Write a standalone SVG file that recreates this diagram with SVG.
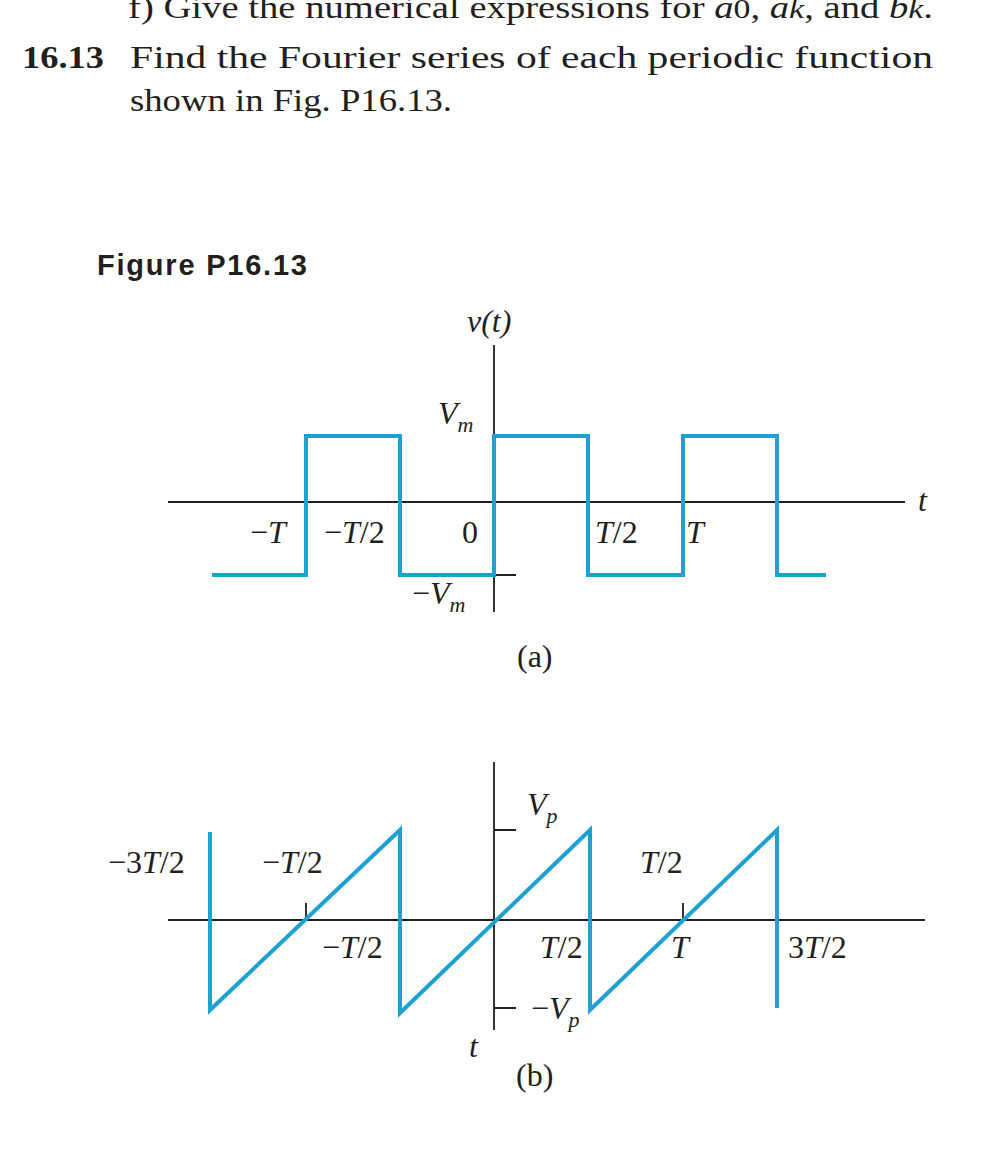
<svg xmlns="http://www.w3.org/2000/svg" width="1000" height="1167" viewBox="0 0 1000 1167">
<style>
.s{font-family:"Liberation Serif",serif;font-size:32px;fill:#231f20}
.i{font-style:italic}
.ax{stroke:#231f20;stroke-width:1.8;fill:none}
.w{stroke:#1ea0d2;stroke-width:4;fill:none;stroke-linejoin:miter}
</style>
<rect width="1000" height="1167" fill="#fff"/>
<text class="s" x="128" y="18" font-size="44" textLength="805" lengthAdjust="spacingAndGlyphs">f)   Give the numerical expressions for <tspan class="i">a</tspan><tspan font-size="28">0</tspan>, <tspan class="i">a<tspan font-size="28">k</tspan></tspan>, and <tspan class="i">b<tspan font-size="28">k</tspan></tspan>.</text>
<text class="s" x="22" y="68" font-size="42" font-weight="bold" textLength="82" lengthAdjust="spacingAndGlyphs">16.13</text>
<text class="s" x="130" y="68" font-size="44" textLength="803" lengthAdjust="spacingAndGlyphs">Find the Fourier series of each periodic function</text>
<text class="s" x="130" y="111" font-size="44" textLength="322" lengthAdjust="spacingAndGlyphs">shown in Fig. P16.13.</text>
<text x="97" y="275" font-family="Liberation Sans,Arial,sans-serif" font-weight="bold" font-size="29" fill="#231f20" textLength="210">Figure P16.13</text>
<g id="graph-a">
<path class="ax" d="M168 502H905M494 345V612M494 575H516"/>
<path class="w" d="M212 575H306V436H400V575H494V436H588V575H683V436H777V575H826"/>
<text class="s i" x="918" y="511">t</text>
<text class="s i" x="467" y="332">v(t)</text>
<text class="s i" x="438" y="424">V<tspan font-size="22" dy="8">m</tspan></text>
<text class="s" x="412" y="604">−<tspan class="i">V</tspan><tspan class="i" font-size="22" dy="8">m</tspan></text>
<text class="s" x="250" y="543">−<tspan class="i">T</tspan></text>
<text class="s" x="324" y="543">−<tspan class="i">T</tspan>/2</text>
<text class="s" x="462" y="543">0</text>
<text class="s" x="595" y="543"><tspan class="i">T</tspan>/2</text>
<text class="s i" x="686" y="543">T</text>
<text class="s" x="517" y="667">(a)</text>
</g>
<g id="graph-b">
<path class="ax" d="M168 920H925M494 762V1030M494 830H516M494 1008H516M306 903V920M683 903V920"/>
<path class="w" d="M210 832V1010L400 830V1013L590 830V1010L777 830V1008"/>
<text class="s i" x="527" y="815">V<tspan font-size="22" dy="8">p</tspan></text>
<text class="s" x="531" y="1019">−<tspan class="i">V</tspan><tspan class="i" font-size="22" dy="8">p</tspan></text>
<text class="s" x="108" y="873">−3<tspan class="i">T</tspan>/2</text>
<text class="s" x="262" y="873">−<tspan class="i">T</tspan>/2</text>
<text class="s" x="322" y="958">−<tspan class="i">T</tspan>/2</text>
<text class="s" x="540" y="958"><tspan class="i">T</tspan>/2</text>
<text class="s" x="640" y="873"><tspan class="i">T</tspan>/2</text>
<text class="s i" x="671" y="958">T</text>
<text class="s" x="788" y="958">3<tspan class="i">T</tspan>/2</text>
<text class="s i" x="469" y="1057">t</text>
<text class="s" x="516" y="1086">(b)</text>
</g>
</svg>
